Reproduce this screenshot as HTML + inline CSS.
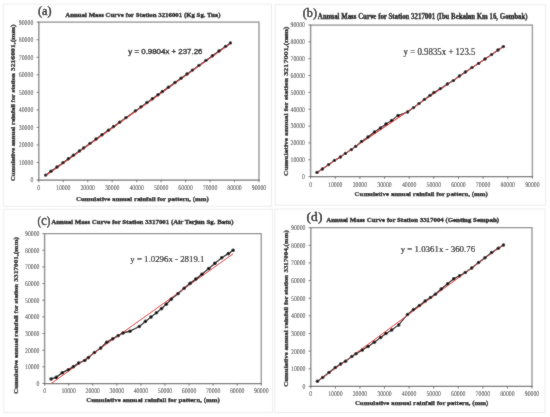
<!DOCTYPE html>
<html><head><meta charset="utf-8"><title>Annual Mass Curves</title>
<style>
html,body{margin:0;padding:0;background:#fff;}
body{width:550px;height:417px;overflow:hidden;}
svg{display:block;}
.tk{text-rendering:geometricPrecision;font-family:"Liberation Serif", "Times New Roman", serif;font-size:7.0px;fill:#4a4a4a;stroke:#4a4a4a;stroke-width:0.08px;}
.lab{font-family:"Liberation Serif", "Times New Roman", serif;fill:#000;stroke:#000;stroke-width:0.35px;}
.ttl{font-family:"Liberation Serif", "Times New Roman", serif;font-weight:bold;fill:#000;stroke:#000;stroke-width:0.3px;}
.ax{font-family:"Liberation Serif", "Times New Roman", serif;font-weight:bold;fill:#000;stroke:#000;stroke-width:0.25px;}
.eqs{font-family:"Liberation Sans", Arial, sans-serif;fill:#000;stroke:#000;stroke-width:0.3px;}
.eqr{font-family:"Liberation Serif", "Times New Roman", serif;fill:#000;stroke:#000;stroke-width:0.15px;}
</style></head>
<body>
<svg width="550" height="417" viewBox="0 0 550 417">
<defs><filter id="soft" x="0" y="0" width="550" height="417" filterUnits="userSpaceOnUse"><feConvolveMatrix order="3" kernelMatrix="1 2 1 2 24 2 1 2 1" divisor="36" edgeMode="duplicate"/></filter></defs>
<g filter="url(#soft)">
<rect width="550" height="417" fill="#fff"/>
<rect x="3.3" y="4.1" width="268.2" height="202.2" fill="none" stroke="#ebebeb" stroke-width="0.9"/>
<path d="M38.8 22.2H259" stroke="#8a8a8a" stroke-width="1.25" fill="none"/>
<path d="M259 21.6V180" stroke="#9a9a9a" stroke-width="1.45" fill="none"/>
<path d="M38.8 21.6V180.6" stroke="#909090" stroke-width="1.5" fill="none"/>
<path d="M38.1 180H259.7" stroke="#6e6e6e" stroke-width="1.25" fill="none"/>
<path d="M38.8 180v2.2M38.8 180h-2.2M63.27 180v2.2M38.8 162.47h-2.2M87.73 180v2.2M38.8 144.93h-2.2M112.2 180v2.2M38.8 127.4h-2.2M136.67 180v2.2M38.8 109.87h-2.2M161.13 180v2.2M38.8 92.33h-2.2M185.6 180v2.2M38.8 74.8h-2.2M210.07 180v2.2M38.8 57.27h-2.2M234.53 180v2.2M38.8 39.73h-2.2M259 180v2.2M38.8 22.2h-2.2" stroke="#666" stroke-width="0.9" fill="none"/>
<text x="33.3" y="182.4" text-anchor="end" class="tk" textLength="2.9" lengthAdjust="spacingAndGlyphs">0</text>
<text x="38.8" y="189.6" text-anchor="middle" class="tk" textLength="2.9" lengthAdjust="spacingAndGlyphs">0</text>
<text x="33.3" y="164.87" text-anchor="end" class="tk" textLength="14.5" lengthAdjust="spacingAndGlyphs">10000</text>
<text x="63.27" y="189.6" text-anchor="middle" class="tk" textLength="14.5" lengthAdjust="spacingAndGlyphs">10000</text>
<text x="33.3" y="147.33" text-anchor="end" class="tk" textLength="14.5" lengthAdjust="spacingAndGlyphs">20000</text>
<text x="87.73" y="189.6" text-anchor="middle" class="tk" textLength="14.5" lengthAdjust="spacingAndGlyphs">20000</text>
<text x="33.3" y="129.8" text-anchor="end" class="tk" textLength="14.5" lengthAdjust="spacingAndGlyphs">30000</text>
<text x="112.2" y="189.6" text-anchor="middle" class="tk" textLength="14.5" lengthAdjust="spacingAndGlyphs">30000</text>
<text x="33.3" y="112.27" text-anchor="end" class="tk" textLength="14.5" lengthAdjust="spacingAndGlyphs">40000</text>
<text x="136.67" y="189.6" text-anchor="middle" class="tk" textLength="14.5" lengthAdjust="spacingAndGlyphs">40000</text>
<text x="33.3" y="94.73" text-anchor="end" class="tk" textLength="14.5" lengthAdjust="spacingAndGlyphs">50000</text>
<text x="161.13" y="189.6" text-anchor="middle" class="tk" textLength="14.5" lengthAdjust="spacingAndGlyphs">50000</text>
<text x="33.3" y="77.2" text-anchor="end" class="tk" textLength="14.5" lengthAdjust="spacingAndGlyphs">60000</text>
<text x="185.6" y="189.6" text-anchor="middle" class="tk" textLength="14.5" lengthAdjust="spacingAndGlyphs">60000</text>
<text x="33.3" y="59.67" text-anchor="end" class="tk" textLength="14.5" lengthAdjust="spacingAndGlyphs">70000</text>
<text x="210.07" y="189.6" text-anchor="middle" class="tk" textLength="14.5" lengthAdjust="spacingAndGlyphs">70000</text>
<text x="33.3" y="42.13" text-anchor="end" class="tk" textLength="14.5" lengthAdjust="spacingAndGlyphs">80000</text>
<text x="234.53" y="189.6" text-anchor="middle" class="tk" textLength="14.5" lengthAdjust="spacingAndGlyphs">80000</text>
<text x="33.3" y="24.6" text-anchor="end" class="tk" textLength="14.5" lengthAdjust="spacingAndGlyphs">90000</text>
<text x="259" y="189.6" text-anchor="middle" class="tk" textLength="14.5" lengthAdjust="spacingAndGlyphs">90000</text>
<path d="M45.6 175.1 L51 171.24 L57 166.94 L63 162.65 L68.4 158.79 L73.4 155.21 L79.4 150.92 L83.6 147.92 L90 143.34 L96 139.05 L102 134.75 L108.4 130.17 L113.6 126.45 L119.6 122.16 L126 117.58 L135.4 110.86 L141 106.85 L147 102.56 L152.4 98.7 L158 94.69 L162.4 91.55 L168.4 87.25 L175 82.53 L181 78.24 L187 73.95 L192.4 70.08 L199 65.36 L206 60.35 L212.4 55.78 L219 51.06 L225.6 46.33 L230.4 42.9" fill="none" stroke="#000" stroke-width="1.1"/>
<line x1="45.6" y1="175.8" x2="230.4" y2="43.6" stroke="#e01515" stroke-width="1.1"/>
<circle cx="45.6" cy="175.1" r="1.7" fill="#000"/>
<circle cx="51" cy="171.24" r="1.7" fill="#000"/>
<circle cx="57" cy="166.94" r="1.7" fill="#000"/>
<circle cx="63" cy="162.65" r="1.7" fill="#000"/>
<circle cx="68.4" cy="158.79" r="1.7" fill="#000"/>
<circle cx="73.4" cy="155.21" r="1.7" fill="#000"/>
<circle cx="79.4" cy="150.92" r="1.7" fill="#000"/>
<circle cx="83.6" cy="147.92" r="1.7" fill="#000"/>
<circle cx="90" cy="143.34" r="1.7" fill="#000"/>
<circle cx="96" cy="139.05" r="1.7" fill="#000"/>
<circle cx="102" cy="134.75" r="1.7" fill="#000"/>
<circle cx="108.4" cy="130.17" r="1.7" fill="#000"/>
<circle cx="113.6" cy="126.45" r="1.7" fill="#000"/>
<circle cx="119.6" cy="122.16" r="1.7" fill="#000"/>
<circle cx="126" cy="117.58" r="1.7" fill="#000"/>
<circle cx="135.4" cy="110.86" r="1.7" fill="#000"/>
<circle cx="141" cy="106.85" r="1.7" fill="#000"/>
<circle cx="147" cy="102.56" r="1.7" fill="#000"/>
<circle cx="152.4" cy="98.7" r="1.7" fill="#000"/>
<circle cx="158" cy="94.69" r="1.7" fill="#000"/>
<circle cx="162.4" cy="91.55" r="1.7" fill="#000"/>
<circle cx="168.4" cy="87.25" r="1.7" fill="#000"/>
<circle cx="175" cy="82.53" r="1.7" fill="#000"/>
<circle cx="181" cy="78.24" r="1.7" fill="#000"/>
<circle cx="187" cy="73.95" r="1.7" fill="#000"/>
<circle cx="192.4" cy="70.08" r="1.7" fill="#000"/>
<circle cx="199" cy="65.36" r="1.7" fill="#000"/>
<circle cx="206" cy="60.35" r="1.7" fill="#000"/>
<circle cx="212.4" cy="55.78" r="1.7" fill="#000"/>
<circle cx="219" cy="51.06" r="1.7" fill="#000"/>
<circle cx="225.6" cy="46.33" r="1.7" fill="#000"/>
<circle cx="230.4" cy="42.9" r="1.7" fill="#000"/>
<line x1="45.6" y1="175.8" x2="230.4" y2="43.6" stroke="#e01515" stroke-width="0.5" opacity="0.6"/>
<text x="38" y="15.3" class="lab" font-size="12.3" textLength="13.6" lengthAdjust="spacingAndGlyphs">(a)</text>
<text x="65.3" y="16.9" class="ttl" font-size="6.85" textLength="155.2" lengthAdjust="spacingAndGlyphs">Annual Mass Curve for Station 3216001 (Kg Sg. Tua)</text>
<text x="128.3" y="53.5" class="eqs" font-size="7.6" textLength="74.2" lengthAdjust="spacingAndGlyphs">y = 0.9804x + 237.26</text>
<text x="76" y="200.9" class="ax" font-size="6.9" textLength="132.8" lengthAdjust="spacingAndGlyphs">Cumulative annual rainfall for pattern, (mm)</text>
<text transform="translate(15 181) rotate(-90)" y="0" class="ax" font-size="6.9"><tspan x="0" textLength="107.7" lengthAdjust="spacingAndGlyphs">Cumulative annual rainfall for station</tspan> <tspan x="109.8" textLength="46.9" lengthAdjust="spacingAndGlyphs">3216001,(mm)</tspan></text>
<rect x="275.2" y="4.4" width="270.4" height="200.8" fill="none" stroke="#ebebeb" stroke-width="0.9"/>
<path d="M310.6 25H532.4" stroke="#8a8a8a" stroke-width="1.25" fill="none"/>
<path d="M532.4 24.4V176.6" stroke="#9a9a9a" stroke-width="1.45" fill="none"/>
<path d="M310.6 24.4V177.2" stroke="#909090" stroke-width="1.5" fill="none"/>
<path d="M309.9 176.6H533.1" stroke="#6e6e6e" stroke-width="1.25" fill="none"/>
<path d="M310.6 176.6v2.2M310.6 176.6h-2.2M335.24 176.6v2.2M310.6 159.76h-2.2M359.89 176.6v2.2M310.6 142.91h-2.2M384.53 176.6v2.2M310.6 126.07h-2.2M409.18 176.6v2.2M310.6 109.22h-2.2M433.82 176.6v2.2M310.6 92.38h-2.2M458.47 176.6v2.2M310.6 75.53h-2.2M483.11 176.6v2.2M310.6 58.69h-2.2M507.76 176.6v2.2M310.6 41.84h-2.2M532.4 176.6v2.2M310.6 25h-2.2" stroke="#666" stroke-width="0.9" fill="none"/>
<text x="305" y="179" text-anchor="end" class="tk" textLength="2.9" lengthAdjust="spacingAndGlyphs">0</text>
<text x="310.6" y="186.5" text-anchor="middle" class="tk" textLength="2.9" lengthAdjust="spacingAndGlyphs">0</text>
<text x="305" y="162.16" text-anchor="end" class="tk" textLength="14.5" lengthAdjust="spacingAndGlyphs">10000</text>
<text x="335.24" y="186.5" text-anchor="middle" class="tk" textLength="14.5" lengthAdjust="spacingAndGlyphs">10000</text>
<text x="305" y="145.31" text-anchor="end" class="tk" textLength="14.5" lengthAdjust="spacingAndGlyphs">20000</text>
<text x="359.89" y="186.5" text-anchor="middle" class="tk" textLength="14.5" lengthAdjust="spacingAndGlyphs">20000</text>
<text x="305" y="128.47" text-anchor="end" class="tk" textLength="14.5" lengthAdjust="spacingAndGlyphs">30000</text>
<text x="384.53" y="186.5" text-anchor="middle" class="tk" textLength="14.5" lengthAdjust="spacingAndGlyphs">30000</text>
<text x="305" y="111.62" text-anchor="end" class="tk" textLength="14.5" lengthAdjust="spacingAndGlyphs">40000</text>
<text x="409.18" y="186.5" text-anchor="middle" class="tk" textLength="14.5" lengthAdjust="spacingAndGlyphs">40000</text>
<text x="305" y="94.78" text-anchor="end" class="tk" textLength="14.5" lengthAdjust="spacingAndGlyphs">50000</text>
<text x="433.82" y="186.5" text-anchor="middle" class="tk" textLength="14.5" lengthAdjust="spacingAndGlyphs">50000</text>
<text x="305" y="77.93" text-anchor="end" class="tk" textLength="14.5" lengthAdjust="spacingAndGlyphs">60000</text>
<text x="458.47" y="186.5" text-anchor="middle" class="tk" textLength="14.5" lengthAdjust="spacingAndGlyphs">60000</text>
<text x="305" y="61.09" text-anchor="end" class="tk" textLength="14.5" lengthAdjust="spacingAndGlyphs">70000</text>
<text x="483.11" y="186.5" text-anchor="middle" class="tk" textLength="14.5" lengthAdjust="spacingAndGlyphs">70000</text>
<text x="305" y="44.24" text-anchor="end" class="tk" textLength="14.5" lengthAdjust="spacingAndGlyphs">80000</text>
<text x="507.76" y="186.5" text-anchor="middle" class="tk" textLength="14.5" lengthAdjust="spacingAndGlyphs">80000</text>
<text x="305" y="27.4" text-anchor="end" class="tk" textLength="14.5" lengthAdjust="spacingAndGlyphs">90000</text>
<text x="532.4" y="186.5" text-anchor="middle" class="tk" textLength="14.5" lengthAdjust="spacingAndGlyphs">90000</text>
<path d="M317 172.4 L322.4 169 L328.6 164.6 L334.4 160.4 L340.4 157 L345.4 153.4 L351.4 149.6 L355.6 146.4 L361.6 141.4 L368 137 L374.4 132 L380.4 128 L386 124 L391.6 120.4 L398 115.4 L407.6 112 L413.6 107.6 L419 103.6 L424.4 99.4 L430 95.4 L434 92.4 L440.4 88.6 L447.4 84 L453.4 80.6 L459.4 76 L465.4 72 L472 67.6 L478.6 63.4 L485 59 L491.6 54.6 L498 50 L503.4 46.6" fill="none" stroke="#000" stroke-width="1.1"/>
<line x1="317" y1="172.6" x2="503.4" y2="46.6" stroke="#e01515" stroke-width="1.1"/>
<circle cx="317" cy="172.4" r="1.7" fill="#000"/>
<circle cx="322.4" cy="169" r="1.7" fill="#000"/>
<circle cx="328.6" cy="164.6" r="1.7" fill="#000"/>
<circle cx="334.4" cy="160.4" r="1.7" fill="#000"/>
<circle cx="340.4" cy="157" r="1.7" fill="#000"/>
<circle cx="345.4" cy="153.4" r="1.7" fill="#000"/>
<circle cx="351.4" cy="149.6" r="1.7" fill="#000"/>
<circle cx="355.6" cy="146.4" r="1.7" fill="#000"/>
<circle cx="361.6" cy="141.4" r="1.7" fill="#000"/>
<circle cx="368" cy="137" r="1.7" fill="#000"/>
<circle cx="374.4" cy="132" r="1.7" fill="#000"/>
<circle cx="380.4" cy="128" r="1.7" fill="#000"/>
<circle cx="386" cy="124" r="1.7" fill="#000"/>
<circle cx="391.6" cy="120.4" r="1.7" fill="#000"/>
<circle cx="398" cy="115.4" r="1.7" fill="#000"/>
<circle cx="407.6" cy="112" r="1.7" fill="#000"/>
<circle cx="413.6" cy="107.6" r="1.7" fill="#000"/>
<circle cx="419" cy="103.6" r="1.7" fill="#000"/>
<circle cx="424.4" cy="99.4" r="1.7" fill="#000"/>
<circle cx="430" cy="95.4" r="1.7" fill="#000"/>
<circle cx="434" cy="92.4" r="1.7" fill="#000"/>
<circle cx="440.4" cy="88.6" r="1.7" fill="#000"/>
<circle cx="447.4" cy="84" r="1.7" fill="#000"/>
<circle cx="453.4" cy="80.6" r="1.7" fill="#000"/>
<circle cx="459.4" cy="76" r="1.7" fill="#000"/>
<circle cx="465.4" cy="72" r="1.7" fill="#000"/>
<circle cx="472" cy="67.6" r="1.7" fill="#000"/>
<circle cx="478.6" cy="63.4" r="1.7" fill="#000"/>
<circle cx="485" cy="59" r="1.7" fill="#000"/>
<circle cx="491.6" cy="54.6" r="1.7" fill="#000"/>
<circle cx="498" cy="50" r="1.7" fill="#000"/>
<circle cx="503.4" cy="46.6" r="1.7" fill="#000"/>
<line x1="317" y1="172.6" x2="503.4" y2="46.6" stroke="#e01515" stroke-width="0.5" opacity="0.6"/>
<text x="302.8" y="16.6" class="lab" font-size="12.3" textLength="14.2" lengthAdjust="spacingAndGlyphs">(b)</text>
<text x="317.8" y="18.5" class="ttl" font-size="7.4" textLength="209.8" lengthAdjust="spacingAndGlyphs">Annual Mass Curve for Station 3217001 (Ibu Bekalan Km 16, Gombak)</text>
<text x="403.6" y="55.2" class="eqr" font-size="9.3" textLength="71.9" lengthAdjust="spacingAndGlyphs">y = 0.9835x + 123.5</text>
<text x="354.6" y="196.4" class="ax" font-size="6.9" textLength="133.3" lengthAdjust="spacingAndGlyphs">Cumulative annual rainfall for pattern, (mm)</text>
<text transform="translate(287.8 175.9) rotate(-90)" y="0" class="ax" font-size="6.9"><tspan x="0" textLength="97.9" lengthAdjust="spacingAndGlyphs">Cumulative annual for station</tspan> <tspan x="100.2" textLength="49.2" lengthAdjust="spacingAndGlyphs">3217001,(mm)</tspan></text>
<rect x="3.8" y="209.2" width="268.9" height="203.1" fill="none" stroke="#ebebeb" stroke-width="0.9"/>
<path d="M44.6 233.6H261.3" stroke="#8a8a8a" stroke-width="1.25" fill="none"/>
<path d="M261.3 233V383.5" stroke="#9a9a9a" stroke-width="1.45" fill="none"/>
<path d="M44.6 233V384.1" stroke="#909090" stroke-width="1.5" fill="none"/>
<path d="M43.9 383.5H262" stroke="#6e6e6e" stroke-width="1.25" fill="none"/>
<path d="M44.6 383.5v2.2M44.6 383.5h-2.2M68.68 383.5v2.2M44.6 366.84h-2.2M92.76 383.5v2.2M44.6 350.19h-2.2M116.83 383.5v2.2M44.6 333.53h-2.2M140.91 383.5v2.2M44.6 316.88h-2.2M164.99 383.5v2.2M44.6 300.22h-2.2M189.07 383.5v2.2M44.6 283.57h-2.2M213.14 383.5v2.2M44.6 266.91h-2.2M237.22 383.5v2.2M44.6 250.26h-2.2M261.3 383.5v2.2M44.6 233.6h-2.2" stroke="#666" stroke-width="0.9" fill="none"/>
<text x="39.5" y="385.9" text-anchor="end" class="tk" textLength="2.9" lengthAdjust="spacingAndGlyphs">0</text>
<text x="44.6" y="392.9" text-anchor="middle" class="tk" textLength="2.9" lengthAdjust="spacingAndGlyphs">0</text>
<text x="39.5" y="369.24" text-anchor="end" class="tk" textLength="14.5" lengthAdjust="spacingAndGlyphs">10000</text>
<text x="68.68" y="392.9" text-anchor="middle" class="tk" textLength="14.5" lengthAdjust="spacingAndGlyphs">10000</text>
<text x="39.5" y="352.59" text-anchor="end" class="tk" textLength="14.5" lengthAdjust="spacingAndGlyphs">20000</text>
<text x="92.76" y="392.9" text-anchor="middle" class="tk" textLength="14.5" lengthAdjust="spacingAndGlyphs">20000</text>
<text x="39.5" y="335.93" text-anchor="end" class="tk" textLength="14.5" lengthAdjust="spacingAndGlyphs">30000</text>
<text x="116.83" y="392.9" text-anchor="middle" class="tk" textLength="14.5" lengthAdjust="spacingAndGlyphs">30000</text>
<text x="39.5" y="319.28" text-anchor="end" class="tk" textLength="14.5" lengthAdjust="spacingAndGlyphs">40000</text>
<text x="140.91" y="392.9" text-anchor="middle" class="tk" textLength="14.5" lengthAdjust="spacingAndGlyphs">40000</text>
<text x="39.5" y="302.62" text-anchor="end" class="tk" textLength="14.5" lengthAdjust="spacingAndGlyphs">50000</text>
<text x="164.99" y="392.9" text-anchor="middle" class="tk" textLength="14.5" lengthAdjust="spacingAndGlyphs">50000</text>
<text x="39.5" y="285.97" text-anchor="end" class="tk" textLength="14.5" lengthAdjust="spacingAndGlyphs">60000</text>
<text x="189.07" y="392.9" text-anchor="middle" class="tk" textLength="14.5" lengthAdjust="spacingAndGlyphs">60000</text>
<text x="39.5" y="269.31" text-anchor="end" class="tk" textLength="14.5" lengthAdjust="spacingAndGlyphs">70000</text>
<text x="213.14" y="392.9" text-anchor="middle" class="tk" textLength="14.5" lengthAdjust="spacingAndGlyphs">70000</text>
<text x="39.5" y="252.66" text-anchor="end" class="tk" textLength="14.5" lengthAdjust="spacingAndGlyphs">80000</text>
<text x="237.22" y="392.9" text-anchor="middle" class="tk" textLength="14.5" lengthAdjust="spacingAndGlyphs">80000</text>
<text x="39.5" y="236" text-anchor="end" class="tk" textLength="14.5" lengthAdjust="spacingAndGlyphs">90000</text>
<text x="261.3" y="392.9" text-anchor="middle" class="tk" textLength="14.5" lengthAdjust="spacingAndGlyphs">90000</text>
<path d="M51.1 379 L56.2 377.4 L62.3 372.7 L68.4 369.7 L73.5 366.6 L78.6 363.1 L84.7 360.5 L88.4 357.6 L94.5 352.5 L100.6 348.1 L106.7 342.2 L112.8 338.7 L118.3 335.6 L123 333 L130 331.2 L139.3 326.5 L145.4 321.4 L151 317 L156.5 312.7 L161.6 308.6 L166.3 304.2 L171.4 299.1 L178.1 293.6 L184.2 288.3 L190.1 283.4 L195.8 279.1 L201.9 274.2 L208.7 268.5 L214.8 263.4 L221.7 257.7 L228.4 253.6 L233.1 250.2" fill="none" stroke="#000" stroke-width="1.35"/>
<line x1="51.1" y1="383.6" x2="233.1" y2="253.8" stroke="#e01515" stroke-width="0.8"/>
<circle cx="51.1" cy="379" r="1.8" fill="#000"/>
<circle cx="56.2" cy="377.4" r="1.8" fill="#000"/>
<circle cx="62.3" cy="372.7" r="1.8" fill="#000"/>
<circle cx="68.4" cy="369.7" r="1.8" fill="#000"/>
<circle cx="73.5" cy="366.6" r="1.8" fill="#000"/>
<circle cx="78.6" cy="363.1" r="1.8" fill="#000"/>
<circle cx="84.7" cy="360.5" r="1.8" fill="#000"/>
<circle cx="88.4" cy="357.6" r="1.8" fill="#000"/>
<circle cx="94.5" cy="352.5" r="1.8" fill="#000"/>
<circle cx="100.6" cy="348.1" r="1.8" fill="#000"/>
<circle cx="106.7" cy="342.2" r="1.8" fill="#000"/>
<circle cx="112.8" cy="338.7" r="1.8" fill="#000"/>
<circle cx="118.3" cy="335.6" r="1.8" fill="#000"/>
<circle cx="123" cy="333" r="1.8" fill="#000"/>
<circle cx="130" cy="331.2" r="1.8" fill="#000"/>
<circle cx="139.3" cy="326.5" r="1.8" fill="#000"/>
<circle cx="145.4" cy="321.4" r="1.8" fill="#000"/>
<circle cx="151" cy="317" r="1.8" fill="#000"/>
<circle cx="156.5" cy="312.7" r="1.8" fill="#000"/>
<circle cx="161.6" cy="308.6" r="1.8" fill="#000"/>
<circle cx="166.3" cy="304.2" r="1.8" fill="#000"/>
<circle cx="171.4" cy="299.1" r="1.8" fill="#000"/>
<circle cx="178.1" cy="293.6" r="1.8" fill="#000"/>
<circle cx="184.2" cy="288.3" r="1.8" fill="#000"/>
<circle cx="190.1" cy="283.4" r="1.8" fill="#000"/>
<circle cx="195.8" cy="279.1" r="1.8" fill="#000"/>
<circle cx="201.9" cy="274.2" r="1.8" fill="#000"/>
<circle cx="208.7" cy="268.5" r="1.8" fill="#000"/>
<circle cx="214.8" cy="263.4" r="1.8" fill="#000"/>
<circle cx="221.7" cy="257.7" r="1.8" fill="#000"/>
<circle cx="228.4" cy="253.6" r="1.8" fill="#000"/>
<circle cx="233.1" cy="250.2" r="1.8" fill="#000"/>
<line x1="51.1" y1="383.6" x2="233.1" y2="253.8" stroke="#e01515" stroke-width="0.5" opacity="0.6"/>
<text x="37.6" y="224.8" class="lab" font-size="12.3" textLength="12.6" lengthAdjust="spacingAndGlyphs">(<tspan font-size="14.5">c</tspan>)</text>
<text x="51.3" y="223.8" class="ttl" font-size="6.85" textLength="182.3" lengthAdjust="spacingAndGlyphs">Annual Mass Curve for Station 3317001 (Air Terjun Sg. Batu)</text>
<text x="130.3" y="261.7" class="eqr" font-size="9.1" textLength="74.2" lengthAdjust="spacingAndGlyphs">y = 1.0296x - 2819.1</text>
<text x="86.3" y="401.8" class="ax" font-size="6.9" textLength="133.5" lengthAdjust="spacingAndGlyphs">Cumulative annual rainfall for pattern, (mm)</text>
<text transform="translate(18.2 393.7) rotate(-90)" y="0" class="ax" font-size="6.9"><tspan x="0" textLength="109.8" lengthAdjust="spacingAndGlyphs">Cumulative annual rainfall for station</tspan> <tspan x="112" textLength="44.7" lengthAdjust="spacingAndGlyphs">3317001,(mm)</tspan></text>
<rect x="274.8" y="209" width="270.2" height="203.5" fill="none" stroke="#ebebeb" stroke-width="0.9"/>
<path d="M310.8 227.7H532" stroke="#8a8a8a" stroke-width="1.25" fill="none"/>
<path d="M532 227.1V386.4" stroke="#9a9a9a" stroke-width="1.45" fill="none"/>
<path d="M310.8 227.1V387" stroke="#909090" stroke-width="1.5" fill="none"/>
<path d="M310.1 386.4H532.7" stroke="#6e6e6e" stroke-width="1.25" fill="none"/>
<path d="M310.8 386.4v2.2M310.8 386.4h-2.2M335.38 386.4v2.2M310.8 368.77h-2.2M359.96 386.4v2.2M310.8 351.13h-2.2M384.53 386.4v2.2M310.8 333.5h-2.2M409.11 386.4v2.2M310.8 315.87h-2.2M433.69 386.4v2.2M310.8 298.23h-2.2M458.27 386.4v2.2M310.8 280.6h-2.2M482.84 386.4v2.2M310.8 262.97h-2.2M507.42 386.4v2.2M310.8 245.33h-2.2M532 386.4v2.2M310.8 227.7h-2.2" stroke="#666" stroke-width="0.9" fill="none"/>
<text x="305.5" y="388.8" text-anchor="end" class="tk" textLength="2.9" lengthAdjust="spacingAndGlyphs">0</text>
<text x="310.8" y="395.6" text-anchor="middle" class="tk" textLength="2.9" lengthAdjust="spacingAndGlyphs">0</text>
<text x="305.5" y="371.17" text-anchor="end" class="tk" textLength="14.5" lengthAdjust="spacingAndGlyphs">10000</text>
<text x="335.38" y="395.6" text-anchor="middle" class="tk" textLength="14.5" lengthAdjust="spacingAndGlyphs">10000</text>
<text x="305.5" y="353.53" text-anchor="end" class="tk" textLength="14.5" lengthAdjust="spacingAndGlyphs">20000</text>
<text x="359.96" y="395.6" text-anchor="middle" class="tk" textLength="14.5" lengthAdjust="spacingAndGlyphs">20000</text>
<text x="305.5" y="335.9" text-anchor="end" class="tk" textLength="14.5" lengthAdjust="spacingAndGlyphs">30000</text>
<text x="384.53" y="395.6" text-anchor="middle" class="tk" textLength="14.5" lengthAdjust="spacingAndGlyphs">30000</text>
<text x="305.5" y="318.27" text-anchor="end" class="tk" textLength="14.5" lengthAdjust="spacingAndGlyphs">40000</text>
<text x="409.11" y="395.6" text-anchor="middle" class="tk" textLength="14.5" lengthAdjust="spacingAndGlyphs">40000</text>
<text x="305.5" y="300.63" text-anchor="end" class="tk" textLength="14.5" lengthAdjust="spacingAndGlyphs">50000</text>
<text x="433.69" y="395.6" text-anchor="middle" class="tk" textLength="14.5" lengthAdjust="spacingAndGlyphs">50000</text>
<text x="305.5" y="283" text-anchor="end" class="tk" textLength="14.5" lengthAdjust="spacingAndGlyphs">60000</text>
<text x="458.27" y="395.6" text-anchor="middle" class="tk" textLength="14.5" lengthAdjust="spacingAndGlyphs">60000</text>
<text x="305.5" y="265.37" text-anchor="end" class="tk" textLength="14.5" lengthAdjust="spacingAndGlyphs">70000</text>
<text x="482.84" y="395.6" text-anchor="middle" class="tk" textLength="14.5" lengthAdjust="spacingAndGlyphs">70000</text>
<text x="305.5" y="247.73" text-anchor="end" class="tk" textLength="14.5" lengthAdjust="spacingAndGlyphs">80000</text>
<text x="507.42" y="395.6" text-anchor="middle" class="tk" textLength="14.5" lengthAdjust="spacingAndGlyphs">80000</text>
<text x="305.5" y="230.1" text-anchor="end" class="tk" textLength="14.5" lengthAdjust="spacingAndGlyphs">90000</text>
<text x="532" y="395.6" text-anchor="middle" class="tk" textLength="14.5" lengthAdjust="spacingAndGlyphs">90000</text>
<path d="M317.4 381.3 L322.7 377.5 L329 372.4 L335.3 367.6 L340.6 364 L345.5 361.2 L351.8 356.4 L356 353.8 L362.4 350 L368.1 346.5 L374.4 342.2 L380.7 337.4 L386 333.4 L391.7 330 L398.7 324.9 L407.5 314.4 L413.5 309.5 L419.4 305.6 L425.2 301 L430.5 297.4 L435.3 294.3 L441.2 289 L447.6 283.7 L453.7 278.8 L459.6 275.7 L465.3 272.5 L471.7 267.9 L478.6 262.6 L485 257.7 L491.7 252.4 L498.3 248.2 L503.5 245" fill="none" stroke="#000" stroke-width="1.25"/>
<line x1="317.4" y1="381.6" x2="503.5" y2="244.6" stroke="#e01515" stroke-width="0.8"/>
<circle cx="317.4" cy="381.3" r="1.75" fill="#000"/>
<circle cx="322.7" cy="377.5" r="1.75" fill="#000"/>
<circle cx="329" cy="372.4" r="1.75" fill="#000"/>
<circle cx="335.3" cy="367.6" r="1.75" fill="#000"/>
<circle cx="340.6" cy="364" r="1.75" fill="#000"/>
<circle cx="345.5" cy="361.2" r="1.75" fill="#000"/>
<circle cx="351.8" cy="356.4" r="1.75" fill="#000"/>
<circle cx="356" cy="353.8" r="1.75" fill="#000"/>
<circle cx="362.4" cy="350" r="1.75" fill="#000"/>
<circle cx="368.1" cy="346.5" r="1.75" fill="#000"/>
<circle cx="374.4" cy="342.2" r="1.75" fill="#000"/>
<circle cx="380.7" cy="337.4" r="1.75" fill="#000"/>
<circle cx="386" cy="333.4" r="1.75" fill="#000"/>
<circle cx="391.7" cy="330" r="1.75" fill="#000"/>
<circle cx="398.7" cy="324.9" r="1.75" fill="#000"/>
<circle cx="407.5" cy="314.4" r="1.75" fill="#000"/>
<circle cx="413.5" cy="309.5" r="1.75" fill="#000"/>
<circle cx="419.4" cy="305.6" r="1.75" fill="#000"/>
<circle cx="425.2" cy="301" r="1.75" fill="#000"/>
<circle cx="430.5" cy="297.4" r="1.75" fill="#000"/>
<circle cx="435.3" cy="294.3" r="1.75" fill="#000"/>
<circle cx="441.2" cy="289" r="1.75" fill="#000"/>
<circle cx="447.6" cy="283.7" r="1.75" fill="#000"/>
<circle cx="453.7" cy="278.8" r="1.75" fill="#000"/>
<circle cx="459.6" cy="275.7" r="1.75" fill="#000"/>
<circle cx="465.3" cy="272.5" r="1.75" fill="#000"/>
<circle cx="471.7" cy="267.9" r="1.75" fill="#000"/>
<circle cx="478.6" cy="262.6" r="1.75" fill="#000"/>
<circle cx="485" cy="257.7" r="1.75" fill="#000"/>
<circle cx="491.7" cy="252.4" r="1.75" fill="#000"/>
<circle cx="498.3" cy="248.2" r="1.75" fill="#000"/>
<circle cx="503.5" cy="245" r="1.75" fill="#000"/>
<line x1="317.4" y1="381.6" x2="503.5" y2="244.6" stroke="#e01515" stroke-width="0.5" opacity="0.6"/>
<text x="306.6" y="221.4" class="lab" font-size="12.3" textLength="15.8" lengthAdjust="spacingAndGlyphs">(d)</text>
<text x="326.3" y="222.4" class="ttl" font-size="6.85" textLength="172.7" lengthAdjust="spacingAndGlyphs">Annual Mass Curve for Station 3317004 (Genting Sempah)</text>
<text x="400.7" y="251.8" class="eqr" font-size="9.0" textLength="74.4" lengthAdjust="spacingAndGlyphs">y = 1.0361x - 360.76</text>
<text x="354.9" y="405.3" class="ax" font-size="6.9" textLength="133.5" lengthAdjust="spacingAndGlyphs">Cumulative annual rainfall for pattern, (mm)</text>
<text transform="translate(288.3 386.7) rotate(-90)" y="0" class="ax" font-size="6.9"><tspan x="0" textLength="111.9" lengthAdjust="spacingAndGlyphs">Cumulative annual rainfall for station</tspan> <tspan x="114.1" textLength="42.4" lengthAdjust="spacingAndGlyphs">3317004,(mm)</tspan></text>
</g>
</svg>
</body></html>
